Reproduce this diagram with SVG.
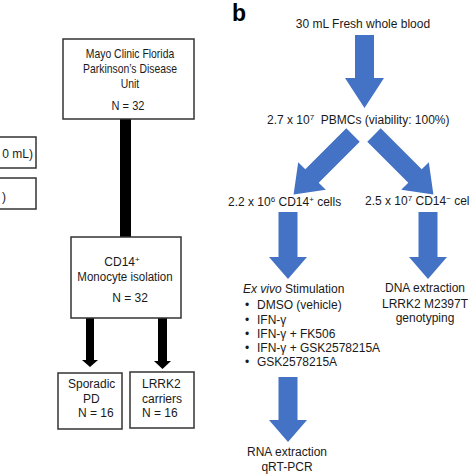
<svg xmlns="http://www.w3.org/2000/svg" width="474" height="474" viewBox="0 0 474 474">
<defs>
<style>
text{font-family:"Liberation Sans",Arial,sans-serif;font-size:12px;fill:#1a1a1a}
.c{text-anchor:middle}
.m{font-size:13px}
.box{fill:#fff;stroke:#333;stroke-width:1.5}
.blk{fill:#000}
.blue{fill:#4472C4}
.sup{font-size:8px}
</style>
<path id="barrow" d="M-9.5,0 H9.5 V58 H19.5 L0,84 L-19.5,58 H-9.5 Z"/>
</defs>
<rect width="474" height="474" fill="#fff"/>

<g id="connectors">
<rect class="blk" x="120" y="119" width="11" height="119"/>
<path class="blk" d="M86,318 H94 V360 H98 L90,367 L82,360 H86 Z"/>
<path class="blk" d="M158,318 H167 V361 H171 L162.5,369 L154,361 H158 Z"/>
<path class="blue" d="M355,35 H374 V78 H384 L364.5,108 L345,78 H355 Z"/>
<use href="#barrow" class="blue" transform="translate(353,135) rotate(45)"/>
<use href="#barrow" class="blue" transform="translate(374,135) rotate(-45)"/>
<path class="blue" d="M278.5,212 H297.5 V257 H307 L288,279 L269,257 H278.5 Z"/>
<path class="blue" d="M418.5,212 H437.5 V257 H447 L428,279 L409,257 H418.5 Z"/>
<path class="blue" d="M278.5,377 H297.5 V420 H307 L288,442 L269,420 H278.5 Z"/>
</g>

<g id="blood-volume-box">
<rect class="box" x="-2" y="137" width="38" height="31"/>
<text x="33" y="158" text-anchor="end">0 mL)</text>
</g>
<g id="partial-box">
<rect class="box" x="-2" y="178" width="38" height="31"/>
<text x="2" y="201">)</text>
</g>

<g id="mayo">
<rect class="box" x="63" y="39" width="131" height="80"/>
<text class="c m" transform="translate(130,58) scale(0.8,1)">Mayo Clinic Florida</text>
<text class="c m" transform="translate(130,73) scale(0.8,1)">Parkinson’s Disease</text>
<text class="c m" transform="translate(130,88) scale(0.8,1)">Unit</text>
<text class="c m" transform="translate(128,110) scale(0.85,1)">N = 32</text>
</g>

<g id="cd14-isolation">
<rect class="box" x="71" y="237" width="110" height="81"/>
<text class="c" x="122" y="266">CD14<tspan class="sup" dy="-4">+</tspan></text>
<text class="c" transform="translate(125,281) scale(0.96,1)">Monocyte isolation</text>
<text class="c" x="130" y="302">N = 32</text>
</g>

<g id="sporadic">
<rect class="box" x="58" y="373" width="64" height="56"/>
<text x="68" y="388">Sporadic</text>
<text x="83" y="403">PD</text>
<text x="78" y="417">N = 16</text>
</g>

<g id="lrrk2">
<rect class="box" x="130" y="372" width="64" height="56"/>
<text x="142" y="388">LRRK2</text>
<text x="142" y="403">carriers</text>
<text x="142" y="417">N = 16</text>
</g>

<g id="label-b">
<text x="232" y="21" style="font-size:23px;font-weight:bold;fill:#000">b</text>
</g>

<g id="blood">
<text class="c" x="363" y="28">30 mL Fresh whole blood</text>
</g>

<g id="pbmc">
<text x="267" y="124">2.7 x 10<tspan class="sup" dy="-4">7</tspan><tspan dy="4" xml:space="preserve">  PBMCs (viability: 100%)</tspan></text>
</g>

<g id="cd14pos">
<text x="228" y="206">2.2 x 10<tspan class="sup" dy="-4">6</tspan><tspan dy="4"> CD14</tspan><tspan class="sup" dy="-4">+</tspan><tspan dy="4"> cells</tspan></text>
</g>

<g id="cd14neg">
<text x="365" y="205">2.5 x 10<tspan class="sup" dy="-4">7</tspan><tspan dy="4"> CD14</tspan><tspan class="sup" dy="-4">−</tspan><tspan dy="4"> cel</tspan></text>
</g>

<g id="stimulation">
<text x="243" y="293"><tspan font-style="italic">Ex vivo</tspan> Stimulation</text>
<text x="245" y="309">•</text><text x="257" y="309">DMSO (vehicle)</text>
<text x="245" y="324">•</text><text x="257" y="324">IFN-γ</text>
<text x="245" y="338">•</text><text x="257" y="338">IFN-γ + FK506</text>
<text x="245" y="352">•</text><text x="257" y="352">IFN-γ + GSK2578215A</text>
<text x="245" y="366">•</text><text x="257" y="366">GSK2578215A</text>
</g>

<g id="dna">
<text class="c" x="425" y="292">DNA extraction</text>
<text class="c" x="425" y="308">LRRK2 M2397T</text>
<text class="c" x="425" y="322">genotyping</text>
</g>

<g id="rna">
<text class="c" x="287" y="456">RNA extraction</text>
<text class="c" x="287" y="471">qRT-PCR</text>
</g>
</svg>
